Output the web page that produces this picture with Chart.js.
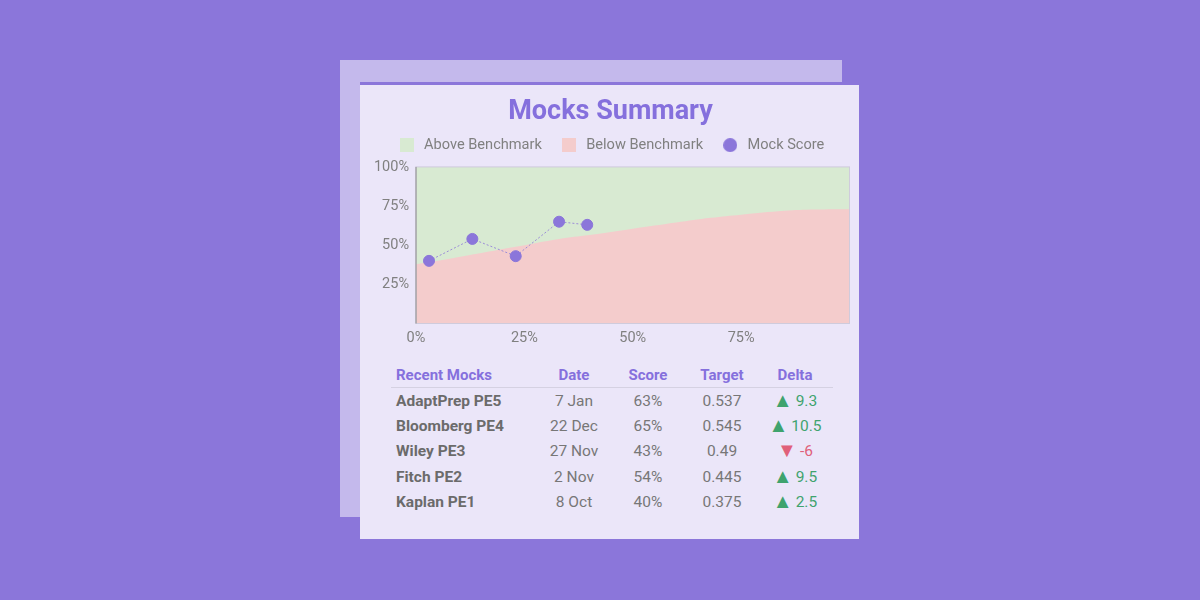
<!DOCTYPE html>
<html><head><meta charset="utf-8">
<script src="https://cdn.jsdelivr.net/npm/chart.js@4"></script>
<style>
html,body{margin:0;padding:0;width:1200px;height:600px;overflow:hidden;background:#8b76da;font-family:Roboto,sans-serif}
#back{position:absolute;left:340px;top:60px;width:502px;height:457px;background:#c4b9ec}
#card{position:absolute;left:360px;top:82px;width:499px;height:457px;background:#ebe6f9;border-top:3px solid #8b76da;box-sizing:border-box}
#wrap{position:absolute;left:366px;top:85px;width:490px;height:265px}
table{position:absolute;left:391px;top:363px;width:442px;border-collapse:collapse;table-layout:fixed;font-size:15.5px;color:#777}
th{color:#8570dd;font-weight:700;height:24px;padding:0;border-bottom:1px solid #d5d1e2;font-size:15px}
td{height:25.3px;padding:0;text-align:center}
th:first-child,td:first-child{text-align:left;padding-left:5px;font-weight:700}
td:first-child{color:#6b6b6b}
.up{color:#3fa36e}.down{color:#e0607a}
.a{font-size:20px;line-height:0;margin-right:3px;vertical-align:-1px}
</style></head><body>
<div id="back"></div><div id="card"></div>
<div id="wrap"><canvas id="c"></canvas></div>
<table id="t"><colgroup><col style="width:148px"><col style="width:70px"><col style="width:78px"><col style="width:70px"><col style="width:76px"></colgroup><thead id="h"></thead><tbody id="b"></tbody></table>
<script>
const titleText = 'Mocks Summary';
const seriesNames = ['Above Benchmark', 'Below Benchmark', 'Mock Score'];
const benchX = [0, 5, 13, 23, 33, 40, 50, 60, 68, 75, 85, 92, 100];
const benchY = [37.8, 40, 44, 49, 54, 56.5, 60.5, 64.5, 67.5, 69.5, 72, 72.8, 73];
const topY = [100, 100, 100, 100, 100, 100, 100, 100, 100, 100, 100, 100, 100];
const mockX = [3, 13, 23, 33, 39.5];
const mockY = [40, 54, 43, 65, 63];
const headers = ['Recent Mocks', 'Date', 'Score', 'Target', 'Delta'];
const names = ['AdaptPrep PE5', 'Bloomberg PE4', 'Wiley PE3', 'Fitch PE2', 'Kaplan PE1'];
const dates = ['7 Jan', '22 Dec', '27 Nov', '2 Nov', '8 Oct'];
const scores = ['63%', '65%', '43%', '54%', '40%'];
const targets = ['0.537', '0.545', '0.49', '0.445', '0.375'];
const deltas = [9.3, 10.5, -6, 9.5, 2.5];

document.getElementById('h').innerHTML = '<tr>' + headers.map(h => '<th>' + h + '</th>').join('') + '</tr>';
document.getElementById('b').innerHTML = names.map((n, i) => {
  const up = deltas[i] >= 0;
  return '<tr><td>' + n + '</td><td>' + dates[i] + '</td><td>' + scores[i] + '</td><td>' + targets[i] +
    '</td><td class="' + (up ? 'up' : 'down') + '"><span class="a">' + (up ? '▲' : '▼') + '</span>' + deltas[i] + '</td></tr>';
}).join('');

const pts = (xs, ys) => xs.map((x, i) => ({x, y: ys[i]}));
const GREEN = '#d8ead2', RED = '#f4cccc', PURPLE = '#8b76da', GREY = '#808080';
function swatch(color, round) {
  const s = document.createElement('canvas'); s.width = 14; s.height = 14;
  const g = s.getContext('2d'); g.fillStyle = color;
  if (round) { g.beginPath(); g.arc(7, 7, 7, 0, Math.PI * 2); g.fill(); } else g.fillRect(0, 0, 14, 14);
  return s;
}
const frame = {
  id: 'frame',
  beforeLayout(ch) {
    const l = ch.legend;
    if (l && !l.__trim) { const f = l.fit; l.fit = function () { f.call(this); this.height += 4.5; }; l.__trim = true; }
  },
  afterDatasetsDraw(ch) {
    const a = ch.chartArea, c = ch.ctx;
    c.save(); c.strokeStyle = '#cfcbdc'; c.lineWidth = 1;
    c.strokeRect(a.left, a.top, a.width, a.height);
    c.strokeStyle = '#8a8a8a';
    c.beginPath(); c.moveTo(a.left, a.top); c.lineTo(a.left, a.bottom); c.stroke();
    c.restore();
  }
};
new Chart(document.getElementById('c'), {
  type: 'scatter',
  plugins: [frame],
  data: {datasets: [
    {label: seriesNames[0], data: pts(benchX, topY), showLine: true, pointRadius: 0, borderWidth: 0, backgroundColor: GREEN, fill: 'origin', order: 3},
    {label: seriesNames[1], data: pts(benchX, benchY), showLine: true, tension: 0.4, pointRadius: 0, borderWidth: 0, backgroundColor: RED, fill: 'origin', order: 2},
    {label: seriesNames[2], data: pts(mockX, mockY), showLine: true, pointRadius: 5.5, pointHoverRadius: 5.5, borderWidth: 1, borderDash: [2, 2], borderColor: '#9c8dd8', pointBackgroundColor: PURPLE, pointBorderColor: PURPLE, backgroundColor: PURPLE, fill: false, order: 1}
  ]},
  options: {
    responsive: true, maintainAspectRatio: false, animation: false,
    layout: {padding: {left: 0, right: 1, top: 0, bottom: 0}},
    plugins: {
      title: {display: true, text: titleText, color: '#8570dd', font: {family: 'Roboto', size: 27, weight: '700'}, padding: {top: 11, bottom: -7.6}},
      tooltip: {enabled: false},
      legend: {position: 'top', labels: {
        usePointStyle: true, pointStyleWidth: 20, boxHeight: 14, padding: 17, color: GREY, font: {family: 'Roboto', size: 14.6},
        generateLabels: ch => ch.data.datasets.map((d, i) => ({
          text: d.label, pointStyle: swatch(d.backgroundColor, i === 2), datasetIndex: i, fontColor: GREY, lineWidth: 0, strokeStyle: 'transparent'
        }))
      }}
    },
    scales: {
      x: {type: 'linear', min: 0, max: 100,
        grid: {display: false, drawTicks: false}, border: {display: false},
        afterFit: s => { s.height = 26.5; },
        ticks: {stepSize: 25, maxRotation: 0, padding: 6, color: GREY, font: {family: 'Roboto', size: 14.5}, callback: v => v === 100 ? '' : v + '%'}},
      y: {min: 0, max: 100,
        grid: {display: false, drawTicks: false}, border: {display: false},
        afterFit: s => { s.width = 50; },
        ticks: {stepSize: 25, padding: 7, color: GREY, font: {family: 'Roboto', size: 14.5}, callback: v => v === 0 ? '' : v + '%'}}
    }
  }
});
</script></body></html>
